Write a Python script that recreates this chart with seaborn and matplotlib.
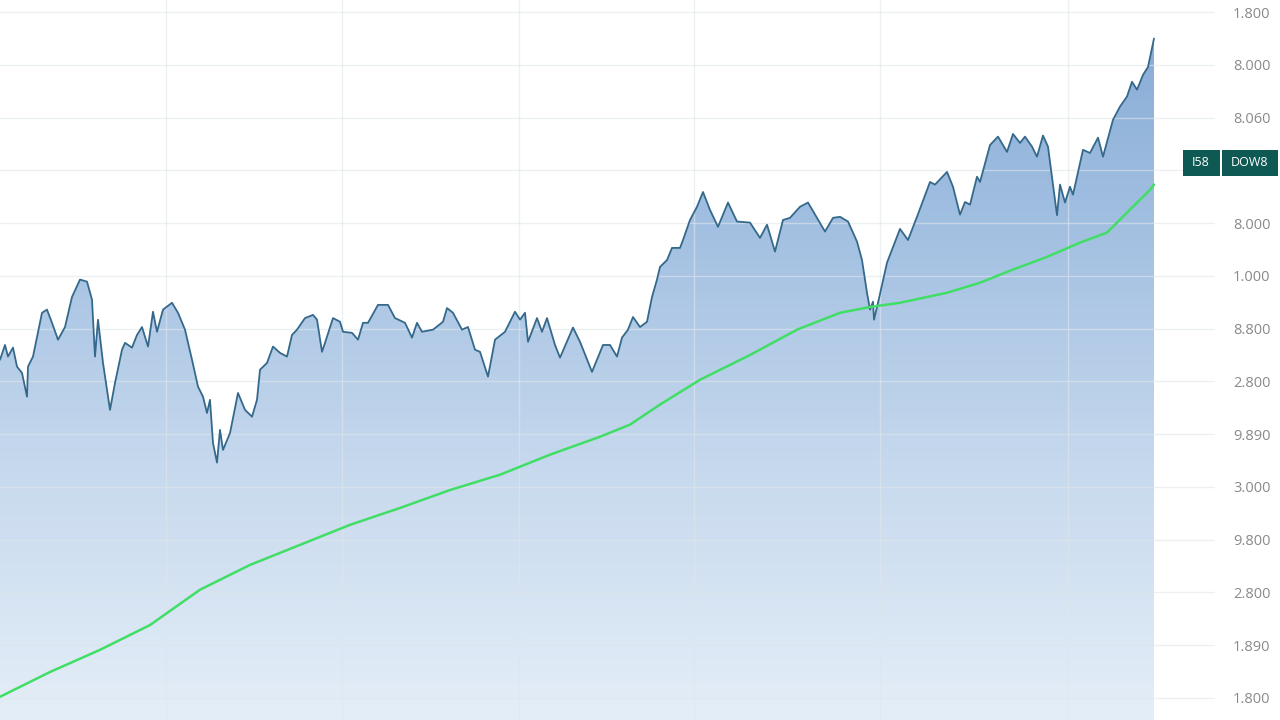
import numpy as np
import pandas as pd
import matplotlib
matplotlib.use("Agg")
import matplotlib.pyplot as plt
import seaborn as sns
from matplotlib.colors import LinearSegmentedColormap
from matplotlib.patches import Rectangle

#---------Data-----------
days = [0, 5, 8, 13, 17, 22, 27, 28, 33, 37, 42, 47, 52, 58, 65, 72, 80, 87, 92, 95,
        98, 103, 110, 115, 122, 125, 132, 137, 142, 148, 153, 157, 163, 172, 178, 185, 192, 198, 203, 207,
        210, 213, 217, 220, 223, 230, 238, 245, 252, 257, 260, 267, 273, 280, 287, 292, 297, 305, 313, 317,
        322, 325, 333, 340, 343, 352, 358, 363, 368, 378, 388, 395, 405, 412, 417, 422, 433, 443, 447, 453,
        462, 468, 475, 480, 488, 495, 505, 515, 520, 525, 528, 537, 542, 547, 555, 560, 573, 580, 592, 597,
        603, 610, 617, 622, 628, 633, 640, 647, 652, 657, 660, 667, 672, 680, 683, 690, 697, 703, 710, 718,
        728, 737, 750, 760, 767, 775, 783, 790, 800, 808, 817, 825, 833, 840, 848, 857, 862, 867, 870, 873,
        874, 878, 887, 900, 908, 917, 930, 935, 947, 953, 960, 965, 970, 977, 980, 990, 998, 1007, 1013, 1020,
        1025, 1032, 1037, 1043, 1048, 1057, 1060, 1065, 1070, 1073, 1083, 1090, 1098, 1103, 1113, 1120, 1127, 1132, 1137, 1143,
        1148, 1154]
close = [1641, 1669, 1647, 1664, 1628, 1616, 1571, 1628, 1647, 1684, 1730, 1736, 1711, 1679, 1703, 1760, 1793, 1789, 1755, 1647,
         1717, 1635, 1546, 1597, 1660, 1673, 1664, 1688, 1703, 1666, 1732, 1694, 1736, 1749, 1730, 1698, 1641, 1590, 1571, 1540,
         1565, 1483, 1446, 1508, 1470, 1502, 1578, 1546, 1533, 1565, 1622, 1635, 1666, 1654, 1647, 1688, 1698, 1720, 1726, 1717,
         1656, 1673, 1720, 1713, 1694, 1692, 1679, 1711, 1711, 1745, 1745, 1720, 1711, 1683, 1711, 1694, 1698, 1713, 1739, 1730,
         1698, 1703, 1660, 1656, 1609, 1679, 1694, 1732, 1717, 1730, 1675, 1720, 1694, 1720, 1669, 1645, 1702, 1675, 1618, 1641,
         1669, 1669, 1647, 1683, 1698, 1722, 1703, 1713, 1760, 1793, 1817, 1830, 1853, 1853, 1868, 1906, 1931, 1959, 1925, 1893,
         1939, 1903, 1901, 1872, 1897, 1846, 1906, 1910, 1931, 1939, 1910, 1884, 1910, 1912, 1903, 1865, 1830, 1768, 1736, 1751,
         1717, 1749, 1825, 1889, 1868, 1912, 1978, 1973, 1997, 1969, 1916, 1940, 1935, 1988, 1978, 2048, 2064, 2035, 2069, 2052,
         2064, 2045, 2026, 2066, 2045, 1915, 1973, 1939, 1969, 1954, 2039, 2033, 2062, 2026, 2096, 2121, 2140, 2168, 2153, 2181,
         2196, 2250]

ma_days = [0, 50, 100, 150, 200, 250, 300, 350, 400, 450, 500, 550, 600, 630, 660,
           700, 750, 797, 840, 870, 900, 947, 980, 1013, 1047, 1080, 1107, 1127, 1150, 1154]
ma = [1002, 1049, 1091, 1138, 1205, 1252, 1290, 1328, 1360, 1394, 1423, 1461, 1495, 1518, 1556,
      1603, 1650, 1698, 1730, 1741, 1749, 1768, 1787, 1812, 1836, 1863, 1882, 1920, 1963, 1973]

levels = [1000, 1100, 1200, 1300, 1400, 1500, 1600, 1700, 1800, 1900, 2000, 2100, 2200, 2300]
# the 2000 label sits under the tag box in the reference, so it is left empty
level_labels = ["1.800", "1.890", "2.800", "9.800", "3.000", "9.890", "2.800",
                "8.800", "1.000", "8.000", "", "8.060", "8.000", "1.800"]
grid_days = [166, 342, 519, 694, 880, 1068]

tag_left = "I58"
tag_right = "DOW8"

df = pd.DataFrame({"day": days, "close": close})
ma_df = pd.DataFrame({"day": ma_days, "ma": ma})

#---------Style-----------
sns.set_theme(style="white")
plt.rcParams['font.family'] = ['Open Sans', 'DejaVu Sans']

fig = plt.figure(figsize=(12.8, 7.2), dpi=100)
ax = fig.add_axes([0, 0, 1215 / 1280, 1])

ymin, ymax = 958, 2323

#---------Gradient area-----------
poly = ax.fill_between(df["day"], df["close"], ymin, facecolor="none", edgecolor="none")
cmap = LinearSegmentedColormap.from_list("area", ["#e4eef8", "#c8daee", "#a4c1e2", "#84a9d4"])
grad = np.linspace(0, 1, 256).reshape(-1, 1)
im = ax.imshow(grad, cmap=cmap, origin="lower", aspect="auto",
               extent=[df["day"].min(), df["day"].max(), ymin, ymax], zorder=1)
im.set_clip_path(poly.get_paths()[0], transform=ax.transData)

#---------Lines-----------
sns.lineplot(data=df, x="day", y="close", color="#35698b", lw=1.3, ax=ax, zorder=3)
sns.lineplot(data=ma_df, x="day", y="ma", color="#41de66", lw=1.8, ax=ax, zorder=4)

ax.set_xlim(0, 1215)
ax.set_ylim(ymin, ymax)

#---------Axes-----------
ax.set_yticks(levels)
ax.set_yticklabels(level_labels)
ax.set_xticks(grid_days)
ax.set_xticklabels([])
ax.yaxis.tick_right()
ax.tick_params(axis="y", length=0, pad=13, labelsize=10.5, labelcolor="#8a8a8a")
ax.tick_params(axis="x", length=0, labelbottom=False)
ax.set_xlabel("")
ax.set_ylabel("")
ax.set_axisbelow(False)
ax.grid(True, color="#e0e6ec", lw=1, alpha=0.6)
for s in ax.spines.values():
    s.set_visible(False)

#---------Tag boxes-----------
fig.patches.append(Rectangle((1183 / 1280, 1 - 176 / 720), 37 / 1280, 26 / 720,
                             transform=fig.transFigure, facecolor="#0e5953", edgecolor="none", zorder=10))
fig.patches.append(Rectangle((1222 / 1280, 1 - 176 / 720), 56 / 1280, 26 / 720,
                             transform=fig.transFigure, facecolor="#0e5953", edgecolor="none", zorder=10))
fig.text(1201 / 1280, 1 - 163 / 720, tag_left, color="white", fontsize=9,
         ha="center", va="center", zorder=11)
fig.text(1250 / 1280, 1 - 163 / 720, tag_right, color="white", fontsize=9,
         ha="center", va="center", zorder=11)

fig.savefig("out.png", dpi=100)
